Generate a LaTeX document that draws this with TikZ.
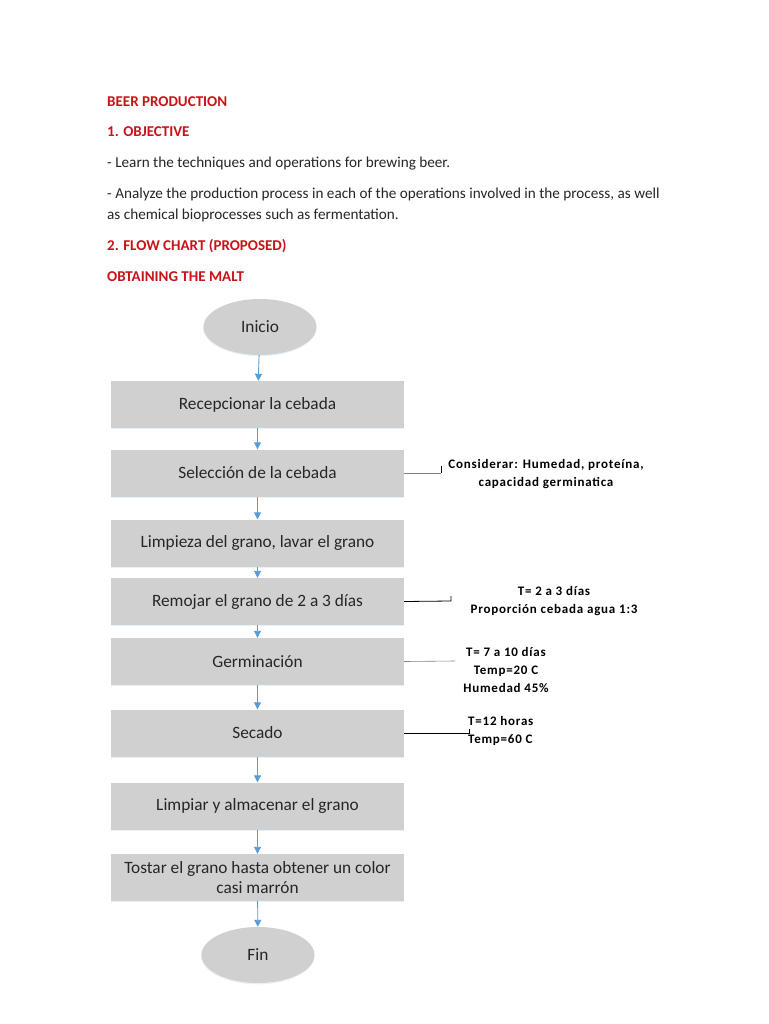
\documentclass[tikz,border=0pt]{standalone}
\usepackage{fontspec}
\setmainfont{Carlito}
\usetikzlibrary{arrows.meta,shapes.geometric,shadows}
\definecolor{boxgray}{RGB}{208,208,208}
\definecolor{headred}{RGB}{200,20,24}
\definecolor{flowblue}{RGB}{91,155,213}
\definecolor{txtgray}{RGB}{38,38,38}

\begin{document}
\begin{tikzpicture}[x=1pt,y=-1pt]
\tikzstyle{head}=[anchor=base west,inner sep=0pt,text=headred,font=\fontsize{15}{17}\selectfont\bfseries]
\tikzstyle{body}=[anchor=base west,inner sep=0pt,text=txtgray,font=\fontsize{15.2}{20}\selectfont]
\tikzstyle{stage}=[rectangle,fill=boxgray,minimum width=293pt,minimum height=47pt,inner sep=2pt,align=center,text=txtgray,font=\fontsize{17.3}{20.5}\selectfont,drop shadow={shadow xshift=-0.3pt,shadow yshift=-1.3pt,fill=flowblue!25}]
\tikzstyle{term}=[ellipse,fill=boxgray,minimum width=113pt,minimum height=56pt,inner sep=0pt,text=txtgray,font=\fontsize{17.3}{20}\selectfont,drop shadow={shadow xshift=-0.3pt,shadow yshift=-1.3pt,fill=flowblue!25}]
\tikzstyle{flow}=[draw=flowblue,line width=0.9pt,-{Triangle[length=7pt,width=7pt]}]
\tikzstyle{note}=[inner sep=0pt,align=center,font=\fontsize{13}{18}\selectfont\bfseries\addfontfeature{LetterSpace=6}]
\fill[white] (0,0) rectangle (768,1024);
% header text
\node[head] (t1) at (107,107) {BEER PRODUCTION};
\node[head] (t2) at (107,137) {1. OBJECTIVE};
\node[body] (t3) at (107,168) {- Learn the techniques and operations for brewing beer.};
\node[body] (t4) at (107,199) {- Analyze the production process in each of the operations involved in the process, as well};
\node[body] (t5) at (107,219) {as chemical bioprocesses such as fermentation.};
\node[head] (t6) at (107,250) {2. FLOW CHART (PROPOSED)};
\node[head] (t7) at (107,281) {OBTAINING THE MALT};
% flow chart
\node[term] (0) at (260,327) {Inicio};
\node[stage] (1) at (257.5,404.5) {Recepcionar la cebada};
\node[stage] (2) at (257.5,473) {Selección de la cebada};
\node[stage] (3) at (257.5,543) {Limpieza del grano, lavar el grano};
\node[stage] (4) at (257.5,601.5) {Remojar el grano de 2 a 3 días};
\node[stage] (5) at (257.5,661.5) {Germinación};
\node[stage] (6) at (257.5,733) {Secado};
\node[stage] (7) at (257.5,806) {Limpiar y almacenar el grano};
\node[stage] (8) at (257.5,877.5) {Tostar el grano hasta obtener un color\\casi marrón};
\node[term] (9) at (258,955) {Fin};
\draw[flow] (0) -- (1);
\draw[flow] (1) -- (2);
\draw[flow] (2) -- (3);
\draw[flow] (3) -- (4);
\draw[flow] (4) -- (5);
\draw[flow] (5) -- (6);
\draw[flow] (6) -- (7);
\draw[flow] (7) -- (8);
\draw[flow] (8) -- (9);
% notes
\coordinate (c2) at (441,473);
\coordinate (c4) at (451,601);
\coordinate (c5) at (455,661);
\coordinate (c6) at (469,733);
\node[note] (n2) at (546,474) {Considerar: Humedad, proteína,\\capacidad germinatica};
\node[note] (n4) at (554,601) {T= 2 a 3 días\\Proporción cebada agua 1:3};
\node[note] (n5) at (506,670) {T= 7 a 10 días\\Temp=20 C\\Humedad 45\%};
\node[note,anchor=west,align=left] (n6) at (468,731) {T=12 horas\\Temp=60 C};
\draw[gray,line width=0.6pt] (2.east) -- (c2);
\draw[black,line width=0.7pt] (c2) -- ++(0,-7);
\draw[black,line width=0.8pt] (4.east) -- (c4) -- ++(0,-5);
\draw[gray,line width=0.6pt] (5.east) -- (c5);
\draw[black,line width=0.9pt] (6.east) -- (c6) -- ++(0,-4);
\end{tikzpicture}
\end{document}
